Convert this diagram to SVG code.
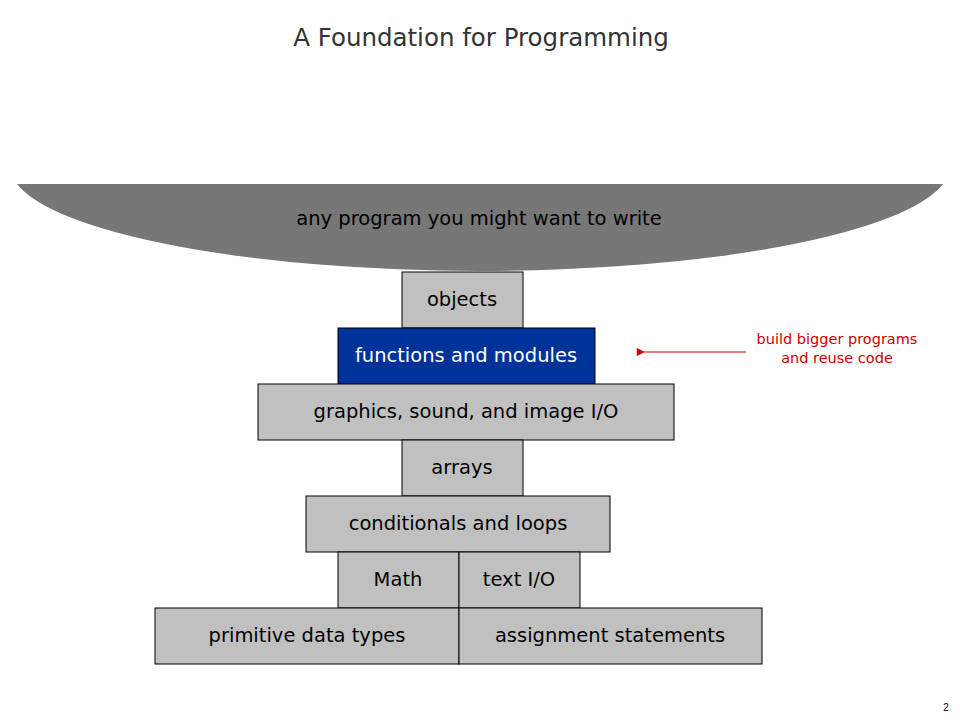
<svg xmlns="http://www.w3.org/2000/svg" width="960" height="720" viewBox="0 0 960 720">
<defs>
<style>
.box{fill:#c0c0c0;stroke:#000;stroke-width:1}
.blue{fill:#003399;stroke:#000;stroke-width:1}
.t{font-family:"DejaVu Sans","Liberation Sans",sans-serif;font-size:19.5px;fill:#000;text-anchor:middle}
.w{fill:#fff}
.red{font-family:"DejaVu Sans","Liberation Sans",sans-serif;font-size:14.5px;fill:#cc0000;text-anchor:middle}
</style>
<marker id="ah" viewBox="0 0 10 10" refX="1" refY="5" markerWidth="9" markerHeight="8" markerUnits="userSpaceOnUse" orient="auto-start-reverse">
<path d="M10,0 L0,5 L10,10 Z" fill="#cc0000"/>
</marker>
</defs>
<rect width="960" height="720" fill="#fff"/>
<text x="481" y="46" font-family="DejaVu Sans, Liberation Sans, sans-serif" font-size="24.5" fill="#333" text-anchor="middle">A Foundation for Programming</text>
<g id="bowl">
<path d="M17,184 L943,184 A470,105 0 0 1 17,184 Z" fill="#777777"/>
<text class="t" x="479" y="225">any program you might want to write</text>
</g>
<g id="objects"><rect class="box" x="402" y="272" width="121" height="56"/><text class="t" x="462" y="306">objects</text></g>
<g id="functions"><rect class="blue" x="338" y="328" width="257" height="56"/><text class="t w" x="466" y="362">functions and modules</text></g>
<g id="graphics"><rect class="box" x="258" y="384" width="416" height="56"/><text class="t" x="466" y="418">graphics, sound, and image I/O</text></g>
<g id="arrays"><rect class="box" x="402" y="440" width="121" height="56"/><text class="t" x="462" y="474">arrays</text></g>
<g id="conditionals"><rect class="box" x="306" y="496" width="304" height="56"/><text class="t" x="458" y="530">conditionals and loops</text></g>
<g id="math"><rect class="box" x="338" y="552" width="121" height="56"/><text class="t" x="398" y="586">Math</text></g>
<g id="textio"><rect class="box" x="459" y="552" width="121" height="56"/><text class="t" x="519" y="586">text I/O</text></g>
<g id="primitive"><rect class="box" x="155" y="608" width="304" height="56"/><text class="t" x="307" y="642">primitive data types</text></g>
<g id="assignment"><rect class="box" x="459" y="608" width="303" height="56"/><text class="t" x="610" y="642">assignment statements</text></g>
<g id="connectors">
<line x1="746" y1="352" x2="644" y2="352" stroke="#cc0000" stroke-width="1.2" marker-end="url(#ah)"/>
</g>
<g id="note">
<text class="red" x="837" y="344">build bigger programs</text>
<text class="red" x="837" y="363">and reuse code</text>
</g>
<text x="946" y="711" font-family="Liberation Sans, sans-serif" font-size="10" fill="#000" text-anchor="middle">2</text>
</svg>
